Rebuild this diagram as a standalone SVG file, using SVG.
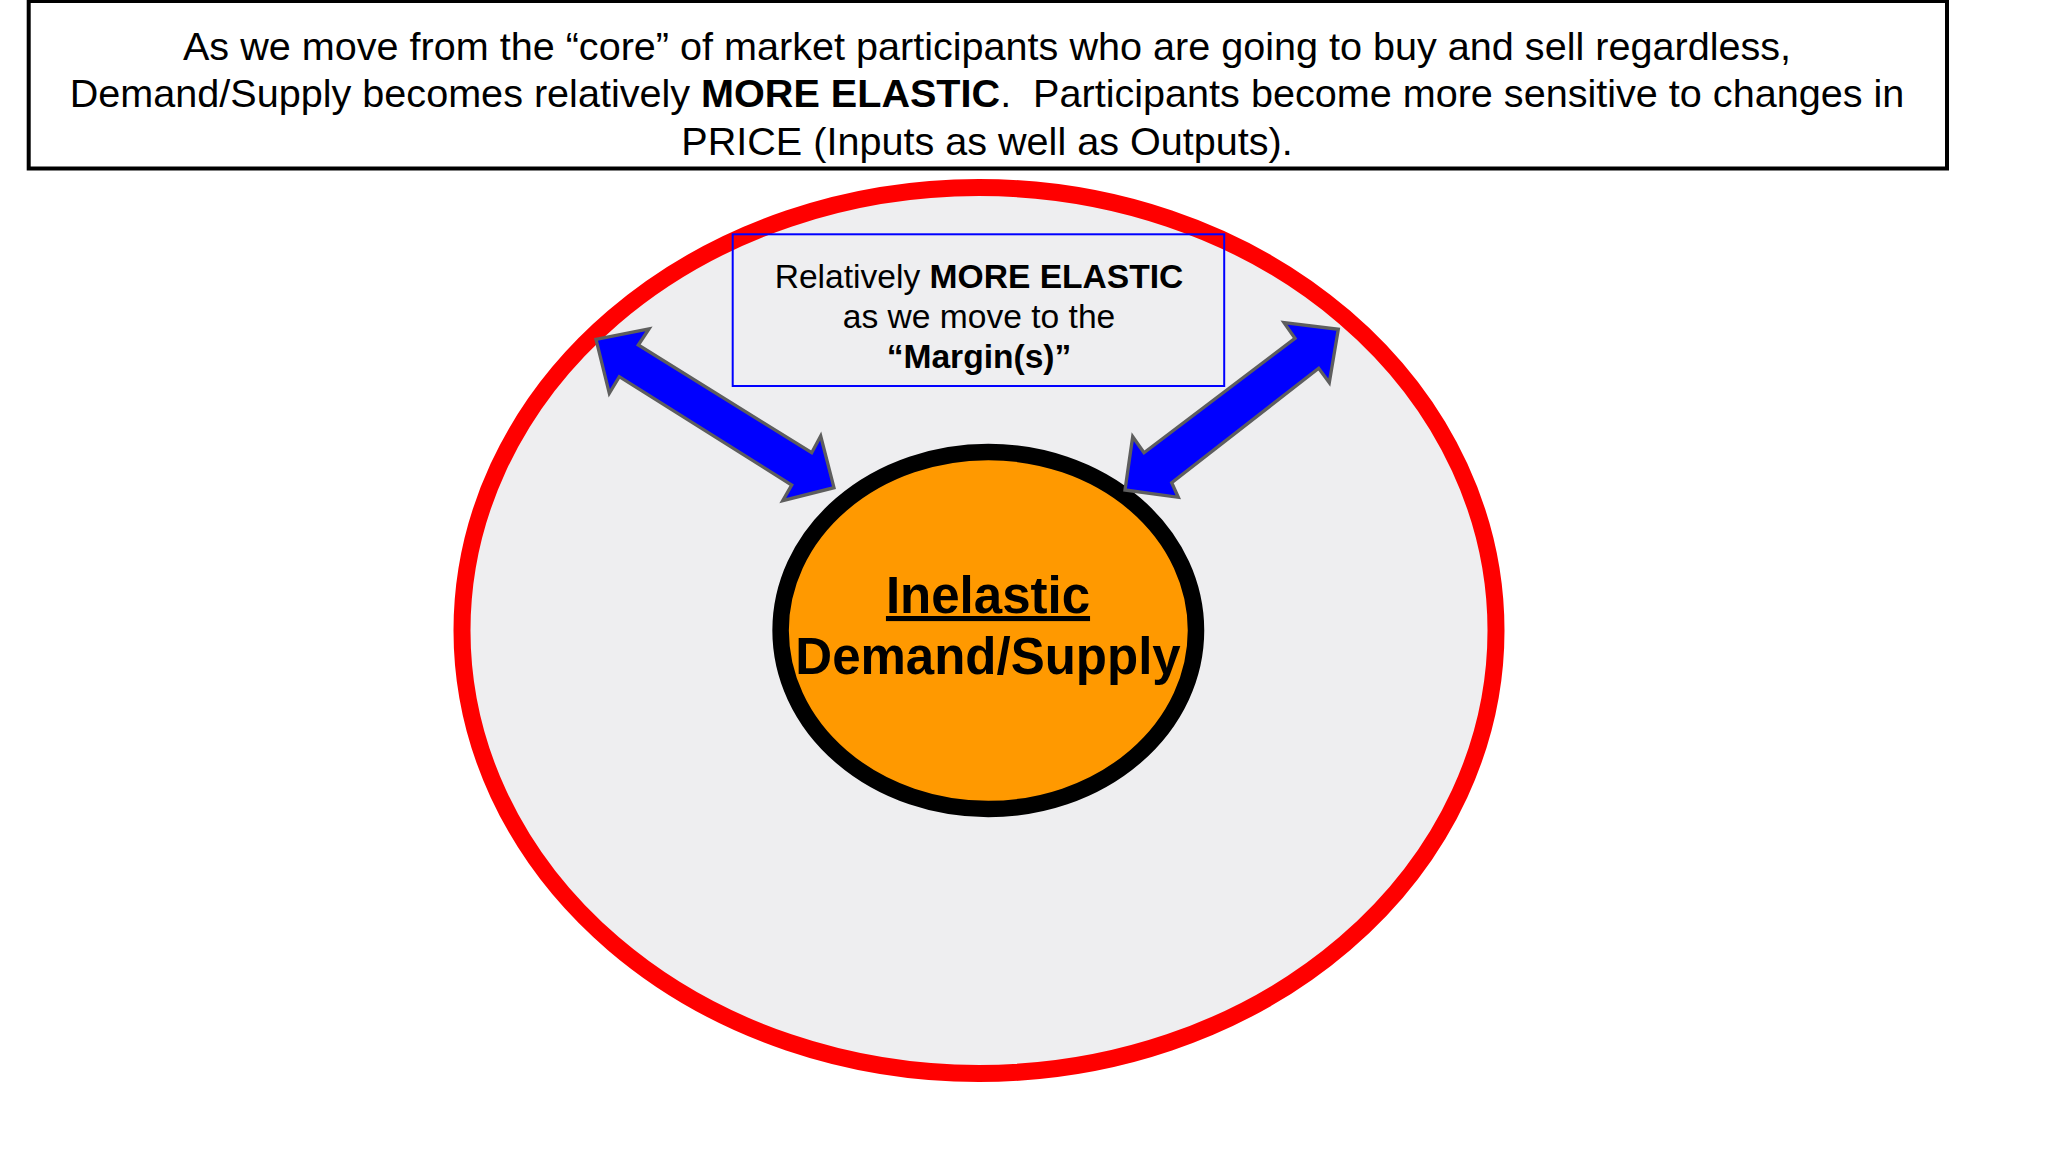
<svg xmlns="http://www.w3.org/2000/svg" width="2048" height="1152" viewBox="0 0 2048 1152">
  <style>
    .hdr { font-family: "Liberation Sans", Arial, sans-serif; font-size: 39.6px; fill: #000; text-anchor: middle; white-space: pre; }
    .lbl { font-family: "Liberation Sans", Arial, sans-serif; font-size: 33.6px; fill: #000; text-anchor: middle; }
    .core { font-family: "Liberation Sans", Arial, sans-serif; font-size: 51px; font-weight: bold; fill: #000; text-anchor: middle; }
    .b { font-weight: bold; }
    .arrow { fill: #0000ff; stroke: #5e5e5e; stroke-width: 3.3; stroke-linejoin: miter; }
  </style>
  <rect width="2048" height="1152" fill="#ffffff"/>

  <g id="header">
    <rect x="28.7" y="1" width="1918.3" height="167.5" fill="#ffffff" stroke="#000000" stroke-width="4"/>
    <text class="hdr" x="987" y="59.5">As we move from the “core” of market participants who are going to buy and sell regardless,</text>
    <text class="hdr" x="987" y="107">Demand/Supply becomes relatively <tspan class="b">MORE ELASTIC</tspan>.  Participants become more sensitive to changes in</text>
    <text class="hdr" x="987" y="154.5">PRICE (Inputs as well as Outputs).</text>
  </g>

  <g id="margin-region">
    <ellipse cx="979" cy="630.5" rx="517" ry="443" fill="#eeeef0" stroke="#ff0000" stroke-width="17"/>
  </g>

  <g id="core-node">
    <ellipse cx="988.3" cy="630.5" rx="207.7" ry="178.5" fill="#ff9900" stroke="#000000" stroke-width="16.5"/>
    <text class="core" x="988" y="613" text-decoration="underline">Inelastic</text>
    <text class="core" x="988" y="674">Demand/Supply</text>
  </g>

  <g id="label-box">
    <rect x="732.7" y="234.3" width="491.5" height="151.7" fill="none" stroke="#0000ff" stroke-width="2"/>
    <text class="lbl" x="979" y="288">Relatively <tspan class="b">MORE ELASTIC</tspan></text>
    <text class="lbl" x="979" y="328">as we move to the</text>
    <text class="lbl b" x="979" y="368">“Margin(s)”</text>
  </g>

  <g id="connectors">
    <polygon id="arrow-left" class="arrow" points="596,339.3 649,329 638.3,345 811.7,452.7 820.7,436 834,487.7 782.7,500.7 791.7,485 619.3,376.7 609.3,393.3"/>
    <polygon id="arrow-right" class="arrow" points="1338.3,329.3 1329.3,382.7 1318.7,368.3 1171.7,482.7 1178.3,497.3 1125,490 1132.7,436.7 1144,452.7 1295,338.3 1284,322.7"/>
  </g>
</svg>
